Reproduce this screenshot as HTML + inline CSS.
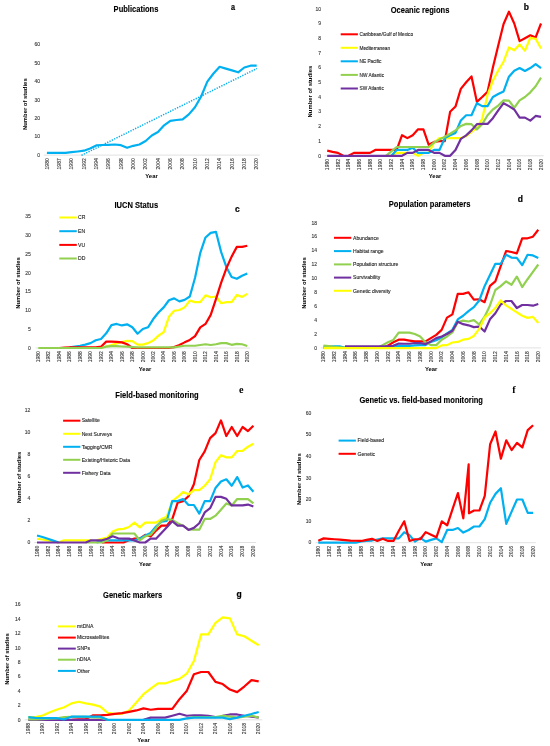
<!DOCTYPE html>
<html><head><meta charset="utf-8"><title>Figure</title>
<style>
html,body{margin:0;padding:0;background:#fff;}
svg{display:block;}
text{font-family:"Liberation Sans",Arial,sans-serif;}
.t{font-size:5.0px;fill:#3a3a3a;stroke:#3a3a3a;stroke-width:0.12px;}
.l{font-size:5.1px;fill:#262626;stroke:#262626;stroke-width:0.12px;}
.lc{font-size:4.75px;fill:#262626;stroke:#262626;stroke-width:0.12px;}
.ti{font-size:7.55px;font-weight:bold;fill:#000;stroke:#000;stroke-width:0.1px;}
.le{font-size:8.5px;font-weight:bold;fill:#000;stroke:#000;stroke-width:0.2px;}
.les{font-family:"Liberation Serif",serif;font-size:10.2px;font-weight:bold;fill:#000;}
.ax{font-size:5.9px;font-weight:bold;fill:#000;}
</style></head>
<body>
<svg width="550" height="746" viewBox="0 0 550 746">
<rect width="550" height="746" fill="#fff"/>
<g id="pa">
<line x1="43.81" y1="155.1" x2="259.76" y2="155.1" stroke="#D9D9D9" stroke-width="0.8"/>
<text x="40.1" y="156.85" class="t" text-anchor="end">0</text>
<text x="40.1" y="138.41" class="t" text-anchor="end">10</text>
<text x="40.1" y="119.97" class="t" text-anchor="end">20</text>
<text x="40.1" y="101.53" class="t" text-anchor="end">30</text>
<text x="40.1" y="83.09" class="t" text-anchor="end">40</text>
<text x="40.1" y="64.65" class="t" text-anchor="end">50</text>
<text x="40.1" y="46.21" class="t" text-anchor="end">60</text>
<text class="t" text-anchor="end" transform="translate(48.6 158.3) rotate(-90)">1980</text>
<text class="t" text-anchor="end" transform="translate(60.94 158.3) rotate(-90)">1987</text>
<text class="t" text-anchor="end" transform="translate(73.28 158.3) rotate(-90)">1990</text>
<text class="t" text-anchor="end" transform="translate(85.62 158.3) rotate(-90)">1992</text>
<text class="t" text-anchor="end" transform="translate(97.96 158.3) rotate(-90)">1994</text>
<text class="t" text-anchor="end" transform="translate(110.3 158.3) rotate(-90)">1996</text>
<text class="t" text-anchor="end" transform="translate(122.64 158.3) rotate(-90)">1998</text>
<text class="t" text-anchor="end" transform="translate(134.98 158.3) rotate(-90)">2000</text>
<text class="t" text-anchor="end" transform="translate(147.32 158.3) rotate(-90)">2002</text>
<text class="t" text-anchor="end" transform="translate(159.66 158.3) rotate(-90)">2004</text>
<text class="t" text-anchor="end" transform="translate(172 158.3) rotate(-90)">2006</text>
<text class="t" text-anchor="end" transform="translate(184.34 158.3) rotate(-90)">2008</text>
<text class="t" text-anchor="end" transform="translate(196.68 158.3) rotate(-90)">2010</text>
<text class="t" text-anchor="end" transform="translate(209.02 158.3) rotate(-90)">2012</text>
<text class="t" text-anchor="end" transform="translate(221.36 158.3) rotate(-90)">2014</text>
<text class="t" text-anchor="end" transform="translate(233.7 158.3) rotate(-90)">2016</text>
<text class="t" text-anchor="end" transform="translate(246.04 158.3) rotate(-90)">2018</text>
<text class="t" text-anchor="end" transform="translate(258.38 158.3) rotate(-90)">2020</text>
<line x1="81.5" y1="155.3" x2="256.9" y2="68.5" stroke="#00B0F0" stroke-width="1.5" stroke-dasharray="1.3 1.3"/>
<path d="M46.9 152.8 L53.07 152.8 L59.24 152.8 L65.41 152.8 L71.58 152.2 L77.75 151.5 L83.92 150.7 L90.09 148.5 L96.26 145.4 L102.43 145 L108.6 144.8 L114.77 144.5 L120.94 145.2 L127.11 147.8 L133.28 145.8 L139.45 144.5 L145.62 141 L151.79 135.5 L157.96 132 L164.13 125.3 L170.3 120.9 L176.47 120 L182.64 119.4 L188.81 114.4 L194.98 107.2 L201.15 96.5 L207.32 81.6 L213.49 73.5 L219.66 66.8 L225.83 68.6 L232 70.4 L238.17 72.3 L244.34 67.5 L250.51 65.7 L256.68 65.7" fill="none" stroke="#00B0F0" stroke-width="2.2" stroke-linejoin="round" stroke-linecap="butt"/>
<text class="ti" text-anchor="middle" transform="translate(136 12.4) scale(1 1.1)">Publications</text>
<text class="le" transform="translate(230.9 9.8) scale(0.85 1.12)">a</text>
<text class="ax" text-anchor="middle" transform="translate(27.4 104.2) rotate(-90)">Number of studies</text>
<text x="151.5" y="177.7" class="ax" text-anchor="middle">Year</text>
</g>
<g id="pb">
<line x1="324.53" y1="155.8" x2="543.67" y2="155.8" stroke="#D9D9D9" stroke-width="0.8"/>
<text x="321" y="157.55" class="t" text-anchor="end">0</text>
<text x="321" y="142.85" class="t" text-anchor="end">1</text>
<text x="321" y="128.15" class="t" text-anchor="end">2</text>
<text x="321" y="113.45" class="t" text-anchor="end">3</text>
<text x="321" y="98.75" class="t" text-anchor="end">4</text>
<text x="321" y="84.05" class="t" text-anchor="end">5</text>
<text x="321" y="69.35" class="t" text-anchor="end">6</text>
<text x="321" y="54.65" class="t" text-anchor="end">7</text>
<text x="321" y="39.95" class="t" text-anchor="end">8</text>
<text x="321" y="25.25" class="t" text-anchor="end">9</text>
<text x="321" y="10.55" class="t" text-anchor="end">10</text>
<text class="t" text-anchor="end" transform="translate(328.9 159) rotate(-90)">1980</text>
<text class="t" text-anchor="end" transform="translate(339.59 159) rotate(-90)">1982</text>
<text class="t" text-anchor="end" transform="translate(350.28 159) rotate(-90)">1984</text>
<text class="t" text-anchor="end" transform="translate(360.97 159) rotate(-90)">1986</text>
<text class="t" text-anchor="end" transform="translate(371.66 159) rotate(-90)">1988</text>
<text class="t" text-anchor="end" transform="translate(382.35 159) rotate(-90)">1990</text>
<text class="t" text-anchor="end" transform="translate(393.04 159) rotate(-90)">1992</text>
<text class="t" text-anchor="end" transform="translate(403.73 159) rotate(-90)">1994</text>
<text class="t" text-anchor="end" transform="translate(414.42 159) rotate(-90)">1996</text>
<text class="t" text-anchor="end" transform="translate(425.11 159) rotate(-90)">1998</text>
<text class="t" text-anchor="end" transform="translate(435.8 159) rotate(-90)">2000</text>
<text class="t" text-anchor="end" transform="translate(446.49 159) rotate(-90)">2002</text>
<text class="t" text-anchor="end" transform="translate(457.18 159) rotate(-90)">2004</text>
<text class="t" text-anchor="end" transform="translate(467.87 159) rotate(-90)">2006</text>
<text class="t" text-anchor="end" transform="translate(478.56 159) rotate(-90)">2008</text>
<text class="t" text-anchor="end" transform="translate(489.25 159) rotate(-90)">2010</text>
<text class="t" text-anchor="end" transform="translate(499.94 159) rotate(-90)">2012</text>
<text class="t" text-anchor="end" transform="translate(510.63 159) rotate(-90)">2014</text>
<text class="t" text-anchor="end" transform="translate(521.32 159) rotate(-90)">2016</text>
<text class="t" text-anchor="end" transform="translate(532.01 159) rotate(-90)">2018</text>
<text class="t" text-anchor="end" transform="translate(542.7 159) rotate(-90)">2020</text>
<path d="M327.2 150.66 L332.55 151.83 L337.89 152.86 L343.24 155.8 M348.58 155.8 L353.93 152.86 L359.27 152.86 L364.62 152.86 L369.96 152.86 L375.31 149.92 L380.65 149.92 L386 149.92 L391.34 149.92 L396.69 149.92 L402.03 135.22 L407.38 138.16 L412.72 135.22 L418.06 129.34 L423.41 129.34 L428.75 144.78 L434.1 141.84 L439.44 141.1 L444.79 141.1 L450.13 111.7 L455.48 106.56 L460.82 88.92 L466.17 82.3 L471.51 76.42 L476.86 101.85 L482.2 97 L487.55 91.86 L492.89 67.6 L498.24 45.55 L503.58 23.94 L508.93 11.74 L514.27 23.5 L519.62 41.14 L524.96 38.2 L530.31 35.26 L535.65 37.47 L541 23.5" fill="none" stroke="#FF0000" stroke-width="2.2" stroke-linejoin="round" stroke-linecap="butt"/>
<path d="M391.34 155.8 L396.69 152.86 L402.03 152.86 L407.38 152.86 M412.72 152.86 L418.06 155.8 L423.41 152.86 M428.75 152.86 L434.1 142.57 L439.44 138.16 L444.79 138.16 L450.13 138.16 L455.48 138.16 L460.82 138.16 L466.17 136.25 L471.51 131.99 L476.86 127.87 L482.2 119.05 L487.55 94.8 L492.89 80.83 L498.24 70.54 L503.58 61.72 L508.93 47.46 L514.27 50.25 L519.62 44.52 L524.96 50.7 L530.31 37.91 L535.65 38.79 L541 48.49" fill="none" stroke="#FFFF00" stroke-width="2.2" stroke-linejoin="round" stroke-linecap="butt"/>
<path d="M391.34 155.8 L396.69 149.92 L402.03 149.92 L407.38 149.92 L412.72 147.72 L418.06 152.86 L423.41 152.86 L428.75 152.86 L434.1 149.92 L439.44 149.92 L444.79 138.16 L450.13 135.22 L455.48 132.87 L460.82 120.52 L466.17 115.23 L471.51 115.23 L476.86 103.17 L482.2 106.11 L487.55 106.11 L492.89 97 L498.24 94.06 L503.58 91.41 L508.93 76.71 L514.27 70.69 L519.62 68.04 L524.96 70.98 L530.31 68.04 L535.65 64.07 L541 68.04" fill="none" stroke="#00B0F0" stroke-width="2.2" stroke-linejoin="round" stroke-linecap="butt"/>
<path d="M386 155.8 L391.34 151.39 L396.69 146.98 L402.03 146.98 L407.38 146.98 L412.72 146.98 L418.06 146.98 L423.41 146.98 L428.75 146.98 L434.1 142.57 L439.44 139.63 L444.79 136.69 L450.13 133.75 L455.48 130.37 L460.82 125.96 L466.17 123.9 L471.51 124.2 L476.86 129.34 L482.2 124.2 L487.55 115.23 L492.89 109.5 L498.24 105.53 L503.58 100.38 L508.93 100.68 L514.27 107.73 L519.62 100.38 L524.96 97 L530.31 92.3 L535.65 86.27 L541 77.6" fill="none" stroke="#92D050" stroke-width="2.2" stroke-linejoin="round" stroke-linecap="butt"/>
<path d="M327.2 155.8 L332.55 155.8 L337.89 155.8 L343.24 155.8 L348.58 155.8 L353.93 155.8 L359.27 155.8 L364.62 155.8 L369.96 155.8 L375.31 155.8 L380.65 155.8 L386 155.8 L391.34 155.8 L396.69 155.8 L402.03 155.8 L407.38 152.86 L412.72 152.86 L418.06 149.92 L423.41 149.92 L428.75 149.92 L434.1 152.86 L439.44 152.86 L444.79 155.8 L450.13 155.8 L455.48 149.92 L460.82 138.9 L466.17 135.37 L471.51 130.37 L476.86 124.2 L482.2 123.9 L487.55 123.9 L492.89 118.17 L498.24 110.38 L503.58 103.17 L508.93 106.11 L514.27 109.5 L519.62 117.58 L524.96 117.58 L530.31 120.67 L535.65 115.96 L541 116.85" fill="none" stroke="#7030A0" stroke-width="2.2" stroke-linejoin="round" stroke-linecap="butt"/>
<line x1="340.7" y1="34.3" x2="357.9" y2="34.3" stroke="#FF0000" stroke-width="2"/>
<text x="359.5" y="36" class="lc">Caribbean/Gulf of Mexico</text>
<line x1="340.7" y1="47.8" x2="357.9" y2="47.8" stroke="#FFFF00" stroke-width="2"/>
<text x="359.5" y="49.5" class="lc">Mediterranean</text>
<line x1="340.7" y1="61.3" x2="357.9" y2="61.3" stroke="#00B0F0" stroke-width="2"/>
<text x="359.5" y="63" class="lc">NE Pacific</text>
<line x1="340.7" y1="74.9" x2="357.9" y2="74.9" stroke="#92D050" stroke-width="2"/>
<text x="359.5" y="76.6" class="lc">NW Atlantic</text>
<line x1="340.7" y1="88.5" x2="357.9" y2="88.5" stroke="#7030A0" stroke-width="2"/>
<text x="359.5" y="90.2" class="lc">SW Atlantic</text>
<text class="ti" text-anchor="middle" transform="translate(420 12.8) scale(1 1.1)">Oceanic regions</text>
<text class="le" transform="translate(523.8 9.8) scale(1 1)">b</text>
<text class="ax" text-anchor="middle" transform="translate(311.6 91.6) rotate(-90)">Number of studies</text>
<text x="435" y="177.7" class="ax" text-anchor="middle">Year</text>
</g>
<g id="pc">
<line x1="35.69" y1="348" x2="249.91" y2="348" stroke="#D9D9D9" stroke-width="0.8"/>
<text x="30.7" y="349.75" class="t" text-anchor="end">0</text>
<text x="30.7" y="330.95" class="t" text-anchor="end">5</text>
<text x="30.7" y="312.15" class="t" text-anchor="end">10</text>
<text x="30.7" y="293.35" class="t" text-anchor="end">15</text>
<text x="30.7" y="274.55" class="t" text-anchor="end">20</text>
<text x="30.7" y="255.75" class="t" text-anchor="end">25</text>
<text x="30.7" y="236.95" class="t" text-anchor="end">30</text>
<text x="30.7" y="218.15" class="t" text-anchor="end">35</text>
<text class="t" text-anchor="end" transform="translate(40 351.2) rotate(-90)">1980</text>
<text class="t" text-anchor="end" transform="translate(50.45 351.2) rotate(-90)">1982</text>
<text class="t" text-anchor="end" transform="translate(60.9 351.2) rotate(-90)">1984</text>
<text class="t" text-anchor="end" transform="translate(71.35 351.2) rotate(-90)">1986</text>
<text class="t" text-anchor="end" transform="translate(81.8 351.2) rotate(-90)">1988</text>
<text class="t" text-anchor="end" transform="translate(92.25 351.2) rotate(-90)">1990</text>
<text class="t" text-anchor="end" transform="translate(102.7 351.2) rotate(-90)">1992</text>
<text class="t" text-anchor="end" transform="translate(113.15 351.2) rotate(-90)">1994</text>
<text class="t" text-anchor="end" transform="translate(123.6 351.2) rotate(-90)">1996</text>
<text class="t" text-anchor="end" transform="translate(134.05 351.2) rotate(-90)">1998</text>
<text class="t" text-anchor="end" transform="translate(144.5 351.2) rotate(-90)">2000</text>
<text class="t" text-anchor="end" transform="translate(154.95 351.2) rotate(-90)">2002</text>
<text class="t" text-anchor="end" transform="translate(165.4 351.2) rotate(-90)">2004</text>
<text class="t" text-anchor="end" transform="translate(175.85 351.2) rotate(-90)">2006</text>
<text class="t" text-anchor="end" transform="translate(186.3 351.2) rotate(-90)">2008</text>
<text class="t" text-anchor="end" transform="translate(196.75 351.2) rotate(-90)">2010</text>
<text class="t" text-anchor="end" transform="translate(207.2 351.2) rotate(-90)">2012</text>
<text class="t" text-anchor="end" transform="translate(217.65 351.2) rotate(-90)">2014</text>
<text class="t" text-anchor="end" transform="translate(228.1 351.2) rotate(-90)">2016</text>
<text class="t" text-anchor="end" transform="translate(238.55 351.2) rotate(-90)">2018</text>
<text class="t" text-anchor="end" transform="translate(249 351.2) rotate(-90)">2020</text>
<path d="M101 348 L106.22 346.5 L111.45 344.99 L116.67 343.49 L121.9 341.98 L127.12 340.86 L132.35 341.04 L137.57 344.62 L142.8 344.62 L148.02 343.11 L153.25 340.48 L158.47 335.59 L163.7 332.21 L168.93 316.79 L174.15 310.78 L179.38 310.02 L184.6 307.39 L189.82 300.62 L195.05 302.13 L200.27 302.13 L205.5 295.36 L210.72 297.24 L215.95 296.49 L221.18 303.26 L226.4 302.13 L231.62 302.13 L236.85 294.98 L242.07 296.86 L247.3 293.86" fill="none" stroke="#FFFF00" stroke-width="2.2" stroke-linejoin="round" stroke-linecap="butt"/>
<path d="M69.65 347.25 L74.88 346.5 L80.1 345.74 L85.32 344.62 L90.55 343.11 L95.77 340.29 L101 338.98 L106.22 333.34 L111.45 325.06 L116.67 323.94 L121.9 325.44 L127.12 324.31 L132.35 327.32 L137.57 333.71 L142.8 329.01 L148.02 327.32 L153.25 319.05 L158.47 312.47 L163.7 307.39 L168.93 300.25 L174.15 298.37 L179.38 301.38 L184.6 299.87 L189.82 296.49 L195.05 277.69 L200.27 252.87 L205.5 237.46 L210.72 232.94 L215.95 231.82 L221.18 252.12 L226.4 267.16 L231.62 276.94 L236.85 278.82 L242.07 275.81 L247.3 273.55" fill="none" stroke="#00B0F0" stroke-width="2.2" stroke-linejoin="round" stroke-linecap="butt"/>
<path d="M59.2 348 L64.42 347.62 L69.65 347.25 L74.88 347.25 L80.1 347.25 L85.32 347.25 L90.55 347.25 L95.77 347.25 L101 346.68 L106.22 341.61 L111.45 341.61 L116.67 341.8 L121.9 342.36 L127.12 344.24 L132.35 348 L137.57 348 L142.8 348 L148.02 348 L153.25 348 L158.47 348 L163.7 348 L168.93 348 L174.15 347.06 L179.38 344.99 L184.6 342.36 L189.82 339.92 L195.05 336.16 L200.27 327.32 L205.5 323.94 L210.72 314.91 L215.95 299.12 L221.18 282.58 L226.4 268.29 L231.62 256.63 L236.85 246.86 L242.07 246.86 L247.3 245.73" fill="none" stroke="#FF0000" stroke-width="2.2" stroke-linejoin="round" stroke-linecap="butt"/>
<path d="M38.3 348 L43.52 348 L48.75 348 L53.97 348 L59.2 348 L64.42 348 L69.65 348 L74.88 348 L80.1 348 L85.32 348 L90.55 348 L95.77 348 L101 348 L106.22 346.68 L111.45 346.12 L116.67 346.12 L121.9 346.5 L127.12 346.68 L132.35 347.06 L137.57 347.44 L142.8 347.44 L148.02 347.44 L153.25 347.44 L158.47 347.44 L163.7 347.44 L168.93 347.44 L174.15 347.44 L179.38 346.5 L184.6 345.74 L189.82 345.74 L195.05 345.74 L200.27 344.99 L205.5 344.24 L210.72 344.99 L215.95 344.24 L221.18 343.11 L226.4 343.11 L231.62 344.8 L236.85 343.86 L242.07 344.24 L247.3 345.93" fill="none" stroke="#92D050" stroke-width="2.2" stroke-linejoin="round" stroke-linecap="butt"/>
<line x1="59.3" y1="217.5" x2="76.8" y2="217.5" stroke="#FFFF00" stroke-width="2"/>
<text x="78" y="219.2" class="l">CR</text>
<line x1="59.3" y1="231.2" x2="76.8" y2="231.2" stroke="#00B0F0" stroke-width="2"/>
<text x="78" y="232.9" class="l">EN</text>
<line x1="59.3" y1="244.9" x2="76.8" y2="244.9" stroke="#FF0000" stroke-width="2"/>
<text x="78" y="246.6" class="l">VU</text>
<line x1="59.3" y1="258.5" x2="76.8" y2="258.5" stroke="#92D050" stroke-width="2"/>
<text x="78" y="260.2" class="l">DD</text>
<text class="ti" text-anchor="middle" transform="translate(136.3 207.6) scale(1 1.1)">IUCN Status</text>
<text class="le" transform="translate(234.9 211.5) scale(1 1)">c</text>
<text class="ax" text-anchor="middle" transform="translate(19.8 283) rotate(-90)">Number of studies</text>
<text x="145" y="370.5" class="ax" text-anchor="middle">Year</text>
</g>
<g id="pd">
<line x1="320.81" y1="347.9" x2="540.98" y2="347.9" stroke="#D9D9D9" stroke-width="0.8"/>
<text x="317" y="349.65" class="t" text-anchor="end">0</text>
<text x="317" y="335.75" class="t" text-anchor="end">2</text>
<text x="317" y="321.85" class="t" text-anchor="end">4</text>
<text x="317" y="307.95" class="t" text-anchor="end">6</text>
<text x="317" y="294.05" class="t" text-anchor="end">8</text>
<text x="317" y="280.15" class="t" text-anchor="end">10</text>
<text x="317" y="266.25" class="t" text-anchor="end">12</text>
<text x="317" y="252.35" class="t" text-anchor="end">14</text>
<text x="317" y="238.45" class="t" text-anchor="end">16</text>
<text x="317" y="224.55" class="t" text-anchor="end">18</text>
<text class="t" text-anchor="end" transform="translate(325.2 351.1) rotate(-90)">1980</text>
<text class="t" text-anchor="end" transform="translate(335.94 351.1) rotate(-90)">1982</text>
<text class="t" text-anchor="end" transform="translate(346.68 351.1) rotate(-90)">1984</text>
<text class="t" text-anchor="end" transform="translate(357.42 351.1) rotate(-90)">1986</text>
<text class="t" text-anchor="end" transform="translate(368.16 351.1) rotate(-90)">1988</text>
<text class="t" text-anchor="end" transform="translate(378.9 351.1) rotate(-90)">1990</text>
<text class="t" text-anchor="end" transform="translate(389.64 351.1) rotate(-90)">1992</text>
<text class="t" text-anchor="end" transform="translate(400.38 351.1) rotate(-90)">1994</text>
<text class="t" text-anchor="end" transform="translate(411.12 351.1) rotate(-90)">1996</text>
<text class="t" text-anchor="end" transform="translate(421.86 351.1) rotate(-90)">1998</text>
<text class="t" text-anchor="end" transform="translate(432.6 351.1) rotate(-90)">2000</text>
<text class="t" text-anchor="end" transform="translate(443.34 351.1) rotate(-90)">2002</text>
<text class="t" text-anchor="end" transform="translate(454.08 351.1) rotate(-90)">2004</text>
<text class="t" text-anchor="end" transform="translate(464.82 351.1) rotate(-90)">2006</text>
<text class="t" text-anchor="end" transform="translate(475.56 351.1) rotate(-90)">2008</text>
<text class="t" text-anchor="end" transform="translate(486.3 351.1) rotate(-90)">2010</text>
<text class="t" text-anchor="end" transform="translate(497.04 351.1) rotate(-90)">2012</text>
<text class="t" text-anchor="end" transform="translate(507.78 351.1) rotate(-90)">2014</text>
<text class="t" text-anchor="end" transform="translate(518.52 351.1) rotate(-90)">2016</text>
<text class="t" text-anchor="end" transform="translate(529.26 351.1) rotate(-90)">2018</text>
<text class="t" text-anchor="end" transform="translate(540 351.1) rotate(-90)">2020</text>
<path d="M323.5 347.9 L328.87 347.9 L334.24 347.9 L339.61 347.9 L344.98 347.9 M377.2 347.9 L382.57 347.9 L387.94 345.61 L393.31 342.2 L398.68 339.7 L404.05 339.7 L409.42 340.6 L414.79 341.44 L420.16 341.44 L425.53 341.44 L430.9 338.1 L436.27 334.83 L441.64 329.9 L447.01 317.6 L452.38 314.4 L457.75 293.9 L463.12 293.9 L468.49 292.3 L473.86 299.6 L479.23 299.25 L484.6 302.17 L489.97 285.91 L495.34 281.32 L500.71 266.17 L506.08 251.02 L511.45 251.99 L516.82 253.38 L522.19 238.3 L527.56 238.3 L532.93 236.7 L538.3 229.75" fill="none" stroke="#FF0000" stroke-width="2.2" stroke-linejoin="round" stroke-linecap="butt"/>
<path d="M323.5 346.72 L328.87 346.51 L334.24 346.37 L339.61 346.37 L344.98 347.9 M377.2 347.9 L382.57 347.2 L387.94 346.51 L393.31 345.81 L398.68 345.81 L404.05 345.81 L409.42 345.81 L414.79 345.47 L420.16 345.12 L425.53 345.12 L430.9 341.92 L436.27 340.25 L441.64 337.47 L447.01 333.3 L452.38 329.83 L457.75 319.4 L463.12 315.72 L468.49 311.06 L473.86 307.1 L479.23 300.5 L484.6 286.18 L489.97 274.92 L495.34 263.8 L500.71 263.8 L506.08 254.77 L511.45 257.55 L516.82 257.9 L522.19 265.19 L527.56 254.77 L532.93 255.46 L538.3 257.9" fill="none" stroke="#00B0F0" stroke-width="2.2" stroke-linejoin="round" stroke-linecap="butt"/>
<path d="M323.5 345.61 L328.87 346.16 L334.24 346.72 L339.61 347.34 L344.98 347.9 L350.35 347.9 L355.72 347.9 L361.09 347.9 L366.46 347.9 L371.83 347.9 L377.2 347.9 L382.57 345.12 L387.94 342.34 L393.31 339.91 L398.68 332.68 L404.05 332.68 L409.42 332.68 L414.79 334 L420.16 336.5 L425.53 342.2 L430.9 345.12 L436.27 345.12 L441.64 339.7 L447.01 336.5 L452.38 332.4 L457.75 322.18 L463.12 320.59 L468.49 321.49 L473.86 320.1 L479.23 324.48 L484.6 316.69 L489.97 305.44 L495.34 290.01 L500.71 286.18 L506.08 281.32 L511.45 284.79 L516.82 276.59 L522.19 287.09 L527.56 279.23 L532.93 271.94 L538.3 264.5" fill="none" stroke="#92D050" stroke-width="2.2" stroke-linejoin="round" stroke-linecap="butt"/>
<path d="M344.98 346.37 L350.35 346.37 L355.72 346.37 L361.09 346.37 L366.46 346.37 L371.83 346.37 L377.2 346.37 L382.57 346.37 L387.94 346.16 L393.31 345.81 L398.68 343.52 L404.05 343.73 L409.42 343.73 L414.79 343.03 L420.16 343.03 L425.53 344.08 L430.9 341.44 L436.27 338.1 L441.64 336.5 L447.01 334 L452.38 330.73 L457.75 321.7 L463.12 324.2 L468.49 325.31 L473.86 327.12 L479.23 326.56 L484.6 331.5 L489.97 319.34 L495.34 313.22 L500.71 304.53 L506.08 300.99 L511.45 300.99 L516.82 308.01 L522.19 305.02 L527.56 305.02 L532.93 305.71 L538.3 303.98" fill="none" stroke="#7030A0" stroke-width="2.2" stroke-linejoin="round" stroke-linecap="butt"/>
<path d="M323.5 348.11 L328.87 348.11 L334.24 348.11 L339.61 348.11 L344.98 348.11 L350.35 348.11 L355.72 348.11 L361.09 348.11 L366.46 348.11 L371.83 348.11 L377.2 348.11 L382.57 348.11 L387.94 348.11 L393.31 348.11 L398.68 348.11 L404.05 348.11 L409.42 348.11 L414.79 348.11 L420.16 348.11 L425.53 348.11 L430.9 348.11 L436.27 348.11 L441.64 345.47 L447.01 345.12 L452.38 342.48 L457.75 341.92 L463.12 339.7 L468.49 338.86 L473.86 335.95 L479.23 328.93 L484.6 317.6 L489.97 313.22 L495.34 308.01 L500.71 300.5 L506.08 305.44 L511.45 308.91 L516.82 312.32 L522.19 315.79 L527.56 317.88 L532.93 316.9 L538.3 323.09" fill="none" stroke="#FFFF00" stroke-width="2.2" stroke-linejoin="round" stroke-linecap="butt"/>
<line x1="334" y1="237.8" x2="351.3" y2="237.8" stroke="#FF0000" stroke-width="2"/>
<text x="353" y="239.5" class="l">Abundance</text>
<line x1="334" y1="251.1" x2="351.3" y2="251.1" stroke="#00B0F0" stroke-width="2"/>
<text x="353" y="252.8" class="l">Habitat range</text>
<line x1="334" y1="264.4" x2="351.3" y2="264.4" stroke="#92D050" stroke-width="2"/>
<text x="353" y="266.1" class="l">Population structure</text>
<line x1="334" y1="277.6" x2="351.3" y2="277.6" stroke="#7030A0" stroke-width="2"/>
<text x="353" y="279.3" class="l">Survivability</text>
<line x1="334" y1="290.8" x2="351.3" y2="290.8" stroke="#FFFF00" stroke-width="2"/>
<text x="353" y="292.5" class="l">Genetic diversity</text>
<text class="ti" text-anchor="middle" transform="translate(429.6 207) scale(1 1.1)">Population parameters</text>
<text class="le" transform="translate(517.8 201.8) scale(1 1)">d</text>
<text class="ax" text-anchor="middle" transform="translate(305.5 283) rotate(-90)">Number of studies</text>
<text x="431.2" y="370.7" class="ax" text-anchor="middle">Year</text>
</g>
<g id="pe">
<line x1="34.3" y1="542.5" x2="256.11" y2="542.5" stroke="#D9D9D9" stroke-width="0.8"/>
<text x="30.2" y="544.25" class="t" text-anchor="end">0</text>
<text x="30.2" y="522.25" class="t" text-anchor="end">2</text>
<text x="30.2" y="500.25" class="t" text-anchor="end">4</text>
<text x="30.2" y="478.25" class="t" text-anchor="end">6</text>
<text x="30.2" y="456.25" class="t" text-anchor="end">8</text>
<text x="30.2" y="434.25" class="t" text-anchor="end">10</text>
<text x="30.2" y="412.25" class="t" text-anchor="end">12</text>
<text class="t" text-anchor="end" transform="translate(38.7 545.7) rotate(-90)">1980</text>
<text class="t" text-anchor="end" transform="translate(49.52 545.7) rotate(-90)">1982</text>
<text class="t" text-anchor="end" transform="translate(60.34 545.7) rotate(-90)">1984</text>
<text class="t" text-anchor="end" transform="translate(71.16 545.7) rotate(-90)">1986</text>
<text class="t" text-anchor="end" transform="translate(81.98 545.7) rotate(-90)">1988</text>
<text class="t" text-anchor="end" transform="translate(92.8 545.7) rotate(-90)">1990</text>
<text class="t" text-anchor="end" transform="translate(103.62 545.7) rotate(-90)">1992</text>
<text class="t" text-anchor="end" transform="translate(114.44 545.7) rotate(-90)">1994</text>
<text class="t" text-anchor="end" transform="translate(125.26 545.7) rotate(-90)">1996</text>
<text class="t" text-anchor="end" transform="translate(136.08 545.7) rotate(-90)">1998</text>
<text class="t" text-anchor="end" transform="translate(146.9 545.7) rotate(-90)">2000</text>
<text class="t" text-anchor="end" transform="translate(157.72 545.7) rotate(-90)">2002</text>
<text class="t" text-anchor="end" transform="translate(168.54 545.7) rotate(-90)">2004</text>
<text class="t" text-anchor="end" transform="translate(179.36 545.7) rotate(-90)">2006</text>
<text class="t" text-anchor="end" transform="translate(190.18 545.7) rotate(-90)">2008</text>
<text class="t" text-anchor="end" transform="translate(201 545.7) rotate(-90)">2010</text>
<text class="t" text-anchor="end" transform="translate(211.82 545.7) rotate(-90)">2012</text>
<text class="t" text-anchor="end" transform="translate(222.64 545.7) rotate(-90)">2014</text>
<text class="t" text-anchor="end" transform="translate(233.46 545.7) rotate(-90)">2016</text>
<text class="t" text-anchor="end" transform="translate(244.28 545.7) rotate(-90)">2018</text>
<text class="t" text-anchor="end" transform="translate(255.1 545.7) rotate(-90)">2020</text>
<path d="M101.92 542.5 L107.33 542.5 L112.74 542.5 L118.15 542.5 L123.56 542.5 L128.97 540.3 L134.38 538.65 L139.79 538.65 L145.2 534.8 L150.61 536.45 L156.02 530.62 L161.43 525.67 L166.84 525.67 L172.25 519.07 L177.66 502.68 L183.07 501.14 L188.48 496.3 L193.89 484.2 L199.3 460 L204.71 451.42 L210.12 438.11 L215.53 433.16 L220.94 420.4 L226.35 436.02 L231.76 427 L237.17 436.02 L242.58 427 L247.99 431.07 L253.4 425.68" fill="none" stroke="#FF0000" stroke-width="2.2" stroke-linejoin="round" stroke-linecap="butt"/>
<path d="M37 538.76 L42.41 539.53 L47.82 540.3 L53.23 541.4 L58.64 542.5 L64.05 540.3 L69.46 540.3 L74.87 540.3 L80.28 540.3 L85.69 540.3 L91.1 540.3 M96.51 540.3 L101.92 538.76 L107.33 537.55 L112.74 531.5 L118.15 529.3 L123.56 528.86 L128.97 526.99 L134.38 522.7 L139.79 527.32 L145.2 522.7 L150.61 522.7 L156.02 522.7 L161.43 519.07 L166.84 516.65 L172.25 501.14 L177.66 496.96 L183.07 492.12 L188.48 494.32 L193.89 490.03 L199.3 490.03 L204.71 485.74 L210.12 479.25 L215.53 462.09 L220.94 455.27 L226.35 457.36 L231.76 457.36 L237.17 450.98 L242.58 450.98 L247.99 446.69 L253.4 443.83" fill="none" stroke="#FFFF00" stroke-width="2.2" stroke-linejoin="round" stroke-linecap="butt"/>
<path d="M37 535.46 L42.41 537 L47.82 538.76 L53.23 540.63 L58.64 542.5 M96.51 542.5 L101.92 541.4 L107.33 540.41 L112.74 540.41 L118.15 540.41 L123.56 540.41 L128.97 540.41 L134.38 540.41 L139.79 538.65 L145.2 535.46 L150.61 533.04 L156.02 526.55 L161.43 521.6 L166.84 520.83 L172.25 501.14 L177.66 501.14 L183.07 499.05 L188.48 504.99 L193.89 504.99 L199.3 513.57 L204.71 501.14 L210.12 501.14 L215.53 487.94 L220.94 481.45 L226.35 479.25 L231.76 485.74 L237.17 477.05 L242.58 487.5 L247.99 485.41 L253.4 491.68" fill="none" stroke="#00B0F0" stroke-width="2.2" stroke-linejoin="round" stroke-linecap="butt"/>
<path d="M85.69 542.5 L91.1 542.5 L96.51 542.5 L101.92 542.5 L107.33 540.3 L112.74 533.48 L118.15 533.48 L123.56 533.48 L128.97 533.48 L134.38 533.48 L139.79 540.41 L145.2 536.45 L150.61 534.8 L156.02 528.2 L161.43 520.83 L166.84 519.07 L172.25 519.95 L177.66 523.25 L183.07 525.67 L188.48 529.3 L193.89 529.63 L199.3 529.63 L204.71 518.96 L210.12 518.96 L215.53 515.66 L220.94 509.72 L226.35 503.45 L231.76 505.43 L237.17 499.05 L242.58 499.05 L247.99 499.05 L253.4 503.34" fill="none" stroke="#92D050" stroke-width="2.2" stroke-linejoin="round" stroke-linecap="butt"/>
<path d="M37 542.5 L42.41 542.5 L47.82 542.5 L53.23 542.5 L58.64 542.5 L64.05 542.5 L69.46 542.5 L74.87 542.5 L80.28 542.5 L85.69 542.5 L91.1 540.3 L96.51 540.3 L101.92 540.3 L107.33 538.76 L112.74 536.34 L118.15 538.32 L123.56 538.65 L128.97 538.65 L134.38 540.41 L139.79 542.5 L145.2 542.5 L150.61 538.65 L156.02 538.65 L161.43 533.04 L166.84 527.32 L172.25 521.16 L177.66 525.67 L183.07 525.67 L188.48 529.96 L193.89 527.87 L199.3 523.25 L204.71 512.47 L210.12 508.18 L215.53 496.85 L220.94 496.85 L226.35 498.83 L231.76 505.43 L237.17 505.43 L242.58 505.43 L247.99 504.55 L253.4 506.53" fill="none" stroke="#7030A0" stroke-width="2.2" stroke-linejoin="round" stroke-linecap="butt"/>
<line x1="63.1" y1="420.7" x2="80.4" y2="420.7" stroke="#FF0000" stroke-width="2"/>
<text x="81.7" y="422.4" class="l">Satellite</text>
<line x1="63.1" y1="433.8" x2="80.4" y2="433.8" stroke="#FFFF00" stroke-width="2"/>
<text x="81.7" y="435.5" class="l">Nest Surveys</text>
<line x1="63.1" y1="446.8" x2="80.4" y2="446.8" stroke="#00B0F0" stroke-width="2"/>
<text x="81.7" y="448.5" class="l">Tagging/CMR</text>
<line x1="63.1" y1="459.8" x2="80.4" y2="459.8" stroke="#92D050" stroke-width="2"/>
<text x="81.7" y="461.5" class="l">Existing/Historic Data</text>
<line x1="63.1" y1="472.8" x2="80.4" y2="472.8" stroke="#7030A0" stroke-width="2"/>
<text x="81.7" y="474.5" class="l">Fishery Data</text>
<text class="ti" text-anchor="middle" transform="translate(157 398.1) scale(1 1.1)">Field-based monitoring</text>
<text class="les" transform="translate(238.9 392.8) scale(1 1)">e</text>
<text class="ax" text-anchor="middle" transform="translate(20.8 477.5) rotate(-90)">Number of studies</text>
<text x="145.2" y="565.5" class="ax" text-anchor="middle">Year</text>
</g>
<g id="pf">
<line x1="315.62" y1="542.7" x2="535.79" y2="542.7" stroke="#D9D9D9" stroke-width="0.8"/>
<text x="311.3" y="544.45" class="t" text-anchor="end">0</text>
<text x="311.3" y="522.85" class="t" text-anchor="end">10</text>
<text x="311.3" y="501.25" class="t" text-anchor="end">20</text>
<text x="311.3" y="479.65" class="t" text-anchor="end">30</text>
<text x="311.3" y="458.05" class="t" text-anchor="end">40</text>
<text x="311.3" y="436.45" class="t" text-anchor="end">50</text>
<text x="311.3" y="414.85" class="t" text-anchor="end">60</text>
<text class="t" text-anchor="end" transform="translate(320 545.9) rotate(-90)">1980</text>
<text class="t" text-anchor="end" transform="translate(330.74 545.9) rotate(-90)">1982</text>
<text class="t" text-anchor="end" transform="translate(341.48 545.9) rotate(-90)">1984</text>
<text class="t" text-anchor="end" transform="translate(352.22 545.9) rotate(-90)">1986</text>
<text class="t" text-anchor="end" transform="translate(362.96 545.9) rotate(-90)">1988</text>
<text class="t" text-anchor="end" transform="translate(373.7 545.9) rotate(-90)">1990</text>
<text class="t" text-anchor="end" transform="translate(384.44 545.9) rotate(-90)">1992</text>
<text class="t" text-anchor="end" transform="translate(395.18 545.9) rotate(-90)">1994</text>
<text class="t" text-anchor="end" transform="translate(405.92 545.9) rotate(-90)">1996</text>
<text class="t" text-anchor="end" transform="translate(416.66 545.9) rotate(-90)">1998</text>
<text class="t" text-anchor="end" transform="translate(427.4 545.9) rotate(-90)">2000</text>
<text class="t" text-anchor="end" transform="translate(438.14 545.9) rotate(-90)">2002</text>
<text class="t" text-anchor="end" transform="translate(448.88 545.9) rotate(-90)">2004</text>
<text class="t" text-anchor="end" transform="translate(459.62 545.9) rotate(-90)">2006</text>
<text class="t" text-anchor="end" transform="translate(470.36 545.9) rotate(-90)">2008</text>
<text class="t" text-anchor="end" transform="translate(481.1 545.9) rotate(-90)">2010</text>
<text class="t" text-anchor="end" transform="translate(491.84 545.9) rotate(-90)">2012</text>
<text class="t" text-anchor="end" transform="translate(502.58 545.9) rotate(-90)">2014</text>
<text class="t" text-anchor="end" transform="translate(513.32 545.9) rotate(-90)">2016</text>
<text class="t" text-anchor="end" transform="translate(524.06 545.9) rotate(-90)">2018</text>
<text class="t" text-anchor="end" transform="translate(534.8 545.9) rotate(-90)">2020</text>
<path d="M318.3 542.7 L323.67 542.7 L329.04 542.7 L334.41 542.7 L339.78 542.7 L345.15 542.7 L350.52 542.7 L355.89 542.7 L361.26 541.4 L366.63 540.97 L372 540.54 L377.37 539.46 L382.74 538.38 L388.11 538.38 L393.48 538.38 L398.85 538.38 L404.22 532.33 L409.59 535.14 L414.96 541.62 L420.33 537.95 L425.7 541.62 L431.07 539.89 L436.44 538.38 L441.81 542.05 L447.18 529.96 L452.55 529.96 L457.92 528.01 L463.29 532.55 L468.66 529.96 L474.03 526.5 L479.4 526.5 L484.77 519.16 L490.14 502.74 L495.51 493.88 L500.88 488.27 L506.25 523.91 L511.62 511.6 L516.99 499.5 L522.36 499.5 L527.73 512.89 L533.1 512.89" fill="none" stroke="#00B0F0" stroke-width="2.2" stroke-linejoin="round" stroke-linecap="butt"/>
<path d="M318.3 540.76 L323.67 538.38 L329.04 538.81 L334.41 539.24 L339.78 539.68 L345.15 540.11 L350.52 540.54 L355.89 540.76 L361.26 540.97 L366.63 539.89 L372 538.81 L377.37 540.97 L382.74 538.81 L388.11 540.97 L393.48 540.97 L398.85 530.82 L404.22 521.32 L409.59 540.97 L414.96 539.24 L420.33 539.24 L425.7 532.12 L431.07 534.71 L436.44 537.3 L441.81 521.32 L447.18 525.42 L452.55 509.22 L457.92 493.02 L463.29 518.29 L468.66 464.29 L468.96 513.32 L474.03 510.52 L479.4 510.52 L484.77 495.83 L490.14 444.2 L495.51 431.46 L500.88 458.68 L506.25 440.32 L511.62 450.04 L516.99 442.91 L522.36 447.44 L527.73 430.16 L533.1 425.2" fill="none" stroke="#FF0000" stroke-width="2.2" stroke-linejoin="round" stroke-linecap="butt"/>
<line x1="338.6" y1="440.6" x2="355.9" y2="440.6" stroke="#00B0F0" stroke-width="2"/>
<text x="357.5" y="442.3" class="l">Field-based</text>
<line x1="338.6" y1="453.8" x2="355.9" y2="453.8" stroke="#FF0000" stroke-width="2"/>
<text x="357.5" y="455.5" class="l">Genetic</text>
<text class="ti" text-anchor="middle" transform="translate(421.2 402.7) scale(1 1.1)">Genetic vs. field-based monitoring</text>
<text class="les" transform="translate(512.2 393.2) scale(1 1)">f</text>
<text class="ax" text-anchor="middle" transform="translate(300.5 479.2) rotate(-90)">Number of studies</text>
<text x="426.4" y="565.9" class="ax" text-anchor="middle">Year</text>
</g>
<g id="pg">
<line x1="24.7" y1="719.8" x2="262.3" y2="719.8" stroke="#D9D9D9" stroke-width="0.8"/>
<text x="20.5" y="721.55" class="t" text-anchor="end">0</text>
<text x="20.5" y="707.15" class="t" text-anchor="end">2</text>
<text x="20.5" y="692.75" class="t" text-anchor="end">4</text>
<text x="20.5" y="678.35" class="t" text-anchor="end">6</text>
<text x="20.5" y="663.95" class="t" text-anchor="end">8</text>
<text x="20.5" y="649.55" class="t" text-anchor="end">10</text>
<text x="20.5" y="635.15" class="t" text-anchor="end">12</text>
<text x="20.5" y="620.75" class="t" text-anchor="end">14</text>
<text x="20.5" y="606.35" class="t" text-anchor="end">16</text>
<text class="t" text-anchor="end" transform="translate(30 723) rotate(-90)">1988</text>
<text class="t" text-anchor="end" transform="translate(44.4 723) rotate(-90)">1990</text>
<text class="t" text-anchor="end" transform="translate(58.8 723) rotate(-90)">1992</text>
<text class="t" text-anchor="end" transform="translate(73.2 723) rotate(-90)">1994</text>
<text class="t" text-anchor="end" transform="translate(87.6 723) rotate(-90)">1996</text>
<text class="t" text-anchor="end" transform="translate(102 723) rotate(-90)">1998</text>
<text class="t" text-anchor="end" transform="translate(116.4 723) rotate(-90)">2000</text>
<text class="t" text-anchor="end" transform="translate(130.8 723) rotate(-90)">2002</text>
<text class="t" text-anchor="end" transform="translate(145.2 723) rotate(-90)">2004</text>
<text class="t" text-anchor="end" transform="translate(159.6 723) rotate(-90)">2006</text>
<text class="t" text-anchor="end" transform="translate(174 723) rotate(-90)">2008</text>
<text class="t" text-anchor="end" transform="translate(188.4 723) rotate(-90)">2010</text>
<text class="t" text-anchor="end" transform="translate(202.8 723) rotate(-90)">2012</text>
<text class="t" text-anchor="end" transform="translate(217.2 723) rotate(-90)">2014</text>
<text class="t" text-anchor="end" transform="translate(231.6 723) rotate(-90)">2016</text>
<text class="t" text-anchor="end" transform="translate(246 723) rotate(-90)">2018</text>
<text class="t" text-anchor="end" transform="translate(260.4 723) rotate(-90)">2020</text>
<path d="M28.3 717.14 L35.5 717.14 L42.7 715.48 L49.9 712.31 L57.1 709.5 L64.3 707.27 L71.5 703.38 L78.7 701.8 L85.9 703.38 L93.1 704.68 L100.3 706.62 L107.5 712.74 L114.7 713.82 L121.9 713.82 L129.1 710.44 L136.3 702.52 L143.5 694.17 L150.7 688.55 L157.9 683.44 L165.1 683.44 L172.3 680.92 L179.5 678.9 L186.7 673.72 L193.9 661.05 L201.1 634.34 L208.3 634.34 L215.5 622.89 L222.7 617.34 L229.9 618.35 L237.1 634.34 L244.3 636.28 L251.5 640.74 L258.7 645.28" fill="none" stroke="#FFFF00" stroke-width="2.2" stroke-linejoin="round" stroke-linecap="butt"/>
<path d="M71.5 719.8 L78.7 719.44 L85.9 719.08 L93.1 715.34 L100.3 715.34 L107.5 714.9 L114.7 713.82 L121.9 713.18 L129.1 711.88 L136.3 710.44 L143.5 708.42 L150.7 709.72 L157.9 708.86 L165.1 708.86 L172.3 708.86 L179.5 699.21 L186.7 691.07 L193.9 674.3 L201.1 671.99 L208.3 671.99 L215.5 681.93 L222.7 684.02 L229.9 689.56 L237.1 692.15 L244.3 686.54 L251.5 680.2 L258.7 681.42" fill="none" stroke="#FF0000" stroke-width="2.2" stroke-linejoin="round" stroke-linecap="butt"/>
<path d="M28.3 719.8 L35.5 719.8 L42.7 719.8 L49.9 719.8 L57.1 719.8 L64.3 719.8 L71.5 719.8 L78.7 719.8 L85.9 719.8 L93.1 719.8 L100.3 719.8 L107.5 719.8 M143.5 719.8 L150.7 717.64 L157.9 717.64 L165.1 717.64 L172.3 715.77 L179.5 713.75 L186.7 715.77 L193.9 715.26 L201.1 715.26 L208.3 715.77 L215.5 717.06 M222.7 715.77 L229.9 714.47 L237.1 714.47 L244.3 715.77 L251.5 716.56 L258.7 717.64" fill="none" stroke="#7030A0" stroke-width="2.2" stroke-linejoin="round" stroke-linecap="butt"/>
<path d="M28.3 719.3 L35.5 719.3 L42.7 719.08 L49.9 718.72 L57.1 718.36 L64.3 717.14 L71.5 716.92 L78.7 716.92 L85.9 716.92 L93.1 717.28 L100.3 717.64 L107.5 719.8 M186.7 718.36 L193.9 717.06 L201.1 717.06 L208.3 717.06 L215.5 717.06 L222.7 715.77 L229.9 716.56 L237.1 717.64 L244.3 716.56 L251.5 715.77 L258.7 717.64" fill="none" stroke="#92D050" stroke-width="2.2" stroke-linejoin="round" stroke-linecap="butt"/>
<path d="M28.3 717.14 L35.5 717.78 L42.7 718.22 L49.9 718.22 L57.1 718.22 L64.3 719.3 L71.5 716.7 L78.7 716.7 L85.9 716.7 L93.1 716.7 L100.3 716.7 L107.5 719.8 L114.7 719.8 L121.9 719.8 L129.1 719.8 L136.3 719.8 L143.5 719.8 L150.7 719.8 L157.9 719.8 L165.1 719.8 L172.3 719.8 L179.5 719.8 L186.7 718.36 L193.9 717.64 L201.1 717.64 L208.3 717.64 L215.5 717.64 L222.7 717.64 L229.9 719.08 L237.1 717.64 L244.3 715.77 L251.5 713.97 L258.7 711.95" fill="none" stroke="#00B0F0" stroke-width="2.2" stroke-linejoin="round" stroke-linecap="butt"/>
<line x1="58" y1="626.4" x2="75.8" y2="626.4" stroke="#FFFF00" stroke-width="2"/>
<text x="77" y="628.1" class="l">mtDNA</text>
<line x1="58" y1="637.6" x2="75.8" y2="637.6" stroke="#FF0000" stroke-width="2"/>
<text x="77" y="639.3" class="l">Microsatellites</text>
<line x1="58" y1="648.6" x2="75.8" y2="648.6" stroke="#7030A0" stroke-width="2"/>
<text x="77" y="650.3" class="l">SNPs</text>
<line x1="58" y1="659.7" x2="75.8" y2="659.7" stroke="#92D050" stroke-width="2"/>
<text x="77" y="661.4" class="l">nDNA</text>
<line x1="58" y1="670.9" x2="75.8" y2="670.9" stroke="#00B0F0" stroke-width="2"/>
<text x="77" y="672.6" class="l">Other</text>
<text class="ti" text-anchor="middle" transform="translate(132.6 598.1) scale(1 1.1)">Genetic markers</text>
<text class="le" transform="translate(236.5 596.8) scale(1 1)">g</text>
<text class="ax" text-anchor="middle" transform="translate(9.3 659) rotate(-90)">Number of studies</text>
<text x="143.5" y="742.4" class="ax" text-anchor="middle">Year</text>
</g>
</svg>
</body></html>
